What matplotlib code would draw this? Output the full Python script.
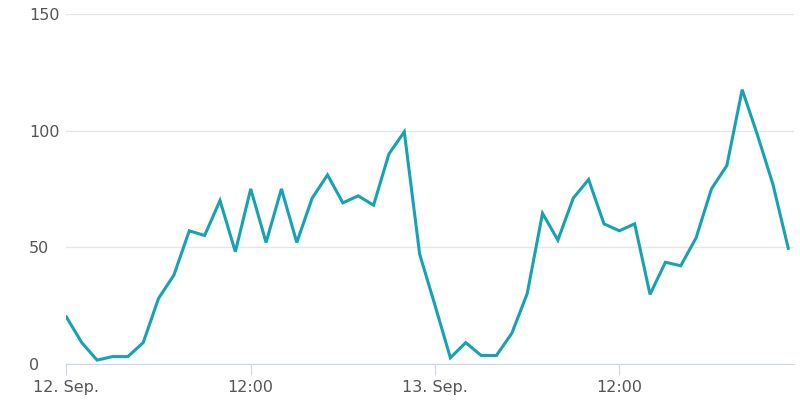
import matplotlib
matplotlib.use("Agg")
import matplotlib.pyplot as plt

hours = list(range(48))
values = [20, 9, 1.5, 3, 3, 9, 28, 38, 57, 55, 70, 48, 75, 52, 75, 52,
          71, 81, 69, 72, 68, 90, 99.5, 47, 25, 2.5, 9, 3.5, 3.5, 13, 30, 64.5,
          53, 71, 79, 60, 57, 60, 29.7, 43.5, 42, 54, 75, 85, 117.6, 98, 77, 49.5]
tick_pos = [0, 12, 24, 36]
tick_labels = ["12. Sep.", "12:00", "13. Sep.", "12:00"]
y_ticks = [0, 50, 100, 150]

fig = plt.figure(figsize=(8.0, 4.04), dpi=100)
ax = fig.add_axes([0.083, 0.1, 0.91, 0.865])
ax.plot(hours, values, color="#17a2b0", linewidth=2.2, solid_joinstyle="miter")
ax.set_xlim(0, 47.4)
ax.set_ylim(0, 150)
ax.set_yticks(y_ticks)
ax.set_xticks(tick_pos)
ax.set_xticklabels(tick_labels)
ax.grid(True, axis="y", color="#e6e6e6", linewidth=1)
ax.set_axisbelow(True)
for s in ["top", "right", "left"]:
    ax.spines[s].set_visible(False)
ax.spines["bottom"].set_color("#ccd6eb")
ax.tick_params(axis="y", length=0, labelsize=11.5, colors="#555555", pad=27)
ax.tick_params(axis="x", length=8, color="#ccd6eb", labelsize=11.5, colors="#555555")
for lbl in ax.get_yticklabels():
    lbl.set_horizontalalignment("left")
fig.savefig("out.png", dpi=100)
